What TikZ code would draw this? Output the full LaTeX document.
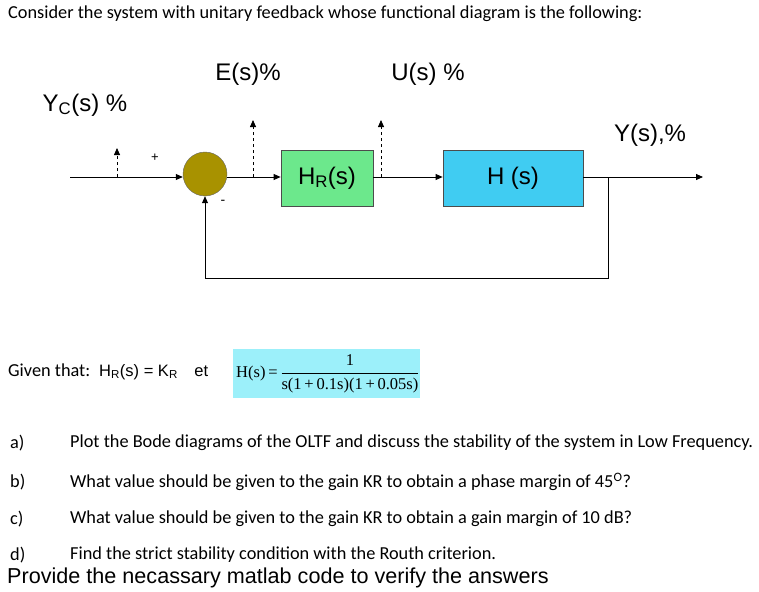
\documentclass[tikz,border=0pt]{standalone}
\usepackage{fontspec}
\setmainfont{Carlito}
\newfontfamily\arial{Liberation Sans}
\newfontfamily\tnr{Liberation Serif}
\usetikzlibrary{arrows.meta}
\definecolor{olive1}{HTML}{A89200}
\definecolor{grn}{HTML}{6CE88C}
\definecolor{cyn}{HTML}{40CCF2}
\definecolor{lcyn}{HTML}{9CF0FA}
\begin{document}
\begin{tikzpicture}[x=1pt,y=-1pt,
  txt/.style={inner sep=0pt,font=\fontsize{18.3}{20}\selectfont},
  lbl/.style={inner sep=0pt,font=\arial\fontsize{24}{26}\selectfont},
  blk/.style={draw=black!70,line width=0.8pt,minimum width=#1,minimum height=56pt,anchor=center,inner sep=0pt},
  sig/.style={-{Triangle[length=7pt,width=6pt]},line width=0.8pt},
  dsig/.style={-{Triangle[length=7pt,width=6pt]},dashed,line width=0.8pt}]
\useasboundingbox (0,0) rectangle (759,591);
\node[txt,anchor=west] (title) at (8,14) {Consider the system with unitary feedback whose functional diagram is the following:};
\node[lbl] (yc) at (85,105) {Y\textsubscript{C}(s) \%};
\node[lbl] (es) at (248,74) {E(s)\%};
\node[lbl] (us) at (428,74) {U(s) \%};
\node[lbl] (ys) at (650,135) {Y(s),\%};
\node[circle,draw=black!60,fill=olive1,minimum size=44pt,inner sep=0pt] (sum) at (205,174) {};
\node[blk=92pt,fill=grn,lbl] (hr) at (327,178) {H\textsubscript{R}(s)};
\node[blk=140pt,fill=cyn,lbl] (h) at (513,178) {H (s)};
\coordinate (in) at (70,177);
\coordinate (out) at (703,177);
\coordinate (fb1) at (608,177);
\coordinate (fb2) at (608,278);
\coordinate (fb3) at (205,278);
\draw[sig] (in) -- (in -| sum.west);
\draw[sig] (sum.east |- 0,177) -- (hr.west |- 0,177);
\draw[sig] (hr.east |- 0,177) -- (h.west |- 0,177);
\draw[sig] (h.east |- 0,177) -- (out);
\draw[sig] (fb1) -- (fb2) -- (fb3) -- (sum.south);
\coordinate (d1a) at (117,177); \coordinate (d1b) at (117,148);
\coordinate (d2a) at (253,177); \coordinate (d2b) at (253,120);
\coordinate (d3a) at (381,177); \coordinate (d3b) at (381,120);
\draw[dsig] (d1a) -- (d1b);
\draw[dsig] (d2a) -- (d2b);
\draw[dsig] (d3a) -- (d3b);
\node[inner sep=0pt,font=\arial\fontsize{13}{13}\selectfont] (plus) at (155,158) {+};
\node[inner sep=0pt,font=\arial\fontsize{14}{14}\selectfont] (minus) at (223,202) {-};
\node[txt,anchor=west] (given) at (8,370) {Given that:};
\node[inner sep=0pt,anchor=west,font=\arial\fontsize{16.5}{18}\selectfont] (hrk) at (99,372) {H\textsubscript{R}(s) = K\textsubscript{R}\quad et};
\node[fill=lcyn,minimum width=187pt,minimum height=49pt,inner sep=0pt] (hbox) at (326.5,373.5) {};
\node[inner sep=0pt,anchor=west,font=\tnr\fontsize{16.5}{18}\selectfont] (hs) at (236,374) {H(s)\,=\,$\displaystyle\frac{\textrm{\tnr 1}}{\textrm{\tnr s(1\,+\,0.1s)(1\,+\,0.05s)}}$};
\node[txt,anchor=west] (la) at (10,443) {a)};
\node[txt,anchor=west] (ta) at (70,443) {Plot the Bode diagrams of the OLTF and discuss the stability of the system in Low Frequency.};
\node[txt,anchor=west] (lb) at (10,482) {b)};
\node[txt,anchor=west] (tb) at (70,482) {What value should be given to the gain KR to obtain a phase margin of 45\textsuperscript{O}?};
\node[txt,anchor=west] (lc) at (10,519) {c)};
\node[txt,anchor=west] (tc) at (70,519) {What value should be given to the gain KR to obtain a gain margin of 10 dB?};
\node[txt,anchor=west] (ld) at (10,555) {d)};
\node[txt,anchor=west] (td) at (70,555) {Find the strict stability condition with the Routh criterion.};
\node[inner sep=0pt,anchor=west,font=\arial\fontsize{21.6}{24}\selectfont] (last) at (7,578) {Provide the necassary matlab code to verify the answers};
\end{tikzpicture}
\end{document}
